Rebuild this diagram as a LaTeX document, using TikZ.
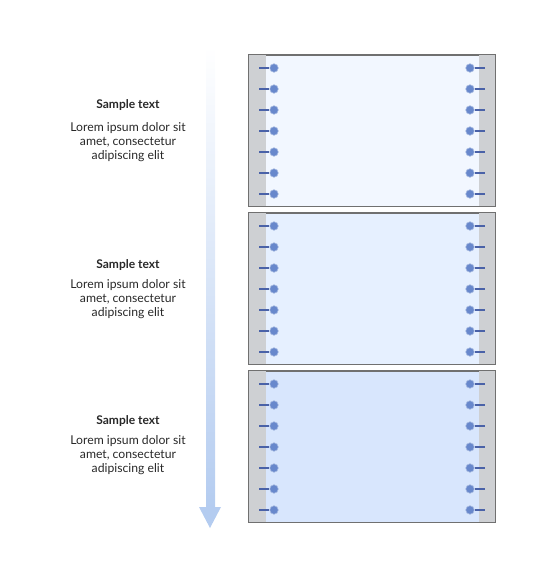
\documentclass[tikz,border=0pt]{standalone}
\usepackage{fontspec}
\setmainfont{Lato}
\usepackage{xcolor}
\definecolor{panelone}{RGB}{242,247,255}
\definecolor{paneltwo}{RGB}{230,240,255}
\definecolor{panelthree}{RGB}{216,230,253}
\definecolor{strip}{RGB}{206,208,211}
\definecolor{frame}{RGB}{112,112,112}
\definecolor{pin}{RGB}{104,136,204}
\definecolor{pinline}{RGB}{74,98,168}
\definecolor{flow}{RGB}{180,204,240}
\definecolor{ink}{RGB}{40,40,40}
\tikzstyle{panel}=[rectangle, draw=frame, line width=1pt, minimum width=246pt, minimum height=151pt, inner sep=0pt]
\tikzstyle{pin}=[circle, fill=pin, draw=pin!60!white, line width=0.6pt, minimum size=8.5pt, inner sep=0pt]
\tikzset{lead/.style={draw=pinline, line width=1.2pt}}
\tikzset{title/.style={font=\fontsize{12}{14}\selectfont\bfseries, text=ink}}
\tikzset{body/.style={font=\fontsize{12.2}{14}\selectfont, align=center, text=ink}}

\begin{document}
\begin{tikzpicture}[x=1pt,y=-1pt]
  \useasboundingbox (0,0) rectangle (555,576);

  %% Flow arrow
  \shade[top color=white, bottom color=flow] (206,46) rectangle (215,508);
  \fill[flow] (199,507) -- (221,507) -- (210,528) -- cycle;

  %% Texts
  \draw (128,105) node[title] (T1) {Sample text};
  \draw (128,142) node[body] (X1) {Lorem ipsum dolor sit\\amet, consectetur\\adipiscing elit};
  \draw (128,265) node[title] (T2) {Sample text};
  \draw (128,299) node[body] (X2) {Lorem ipsum dolor sit\\amet, consectetur\\adipiscing elit};
  \draw (128,421) node[title] (T3) {Sample text};
  \draw (128,455) node[body] (X3) {Lorem ipsum dolor sit\\amet, consectetur\\adipiscing elit};

  %% Panels
  \draw (372,130.5) node[panel, fill=panelone] (B1) {};
  \draw (372,288.5) node[panel, fill=paneltwo] (B2) {};
  \draw (372,446.5) node[panel, fill=panelthree] (B3) {};

  \fill[strip] (B1.north west) rectangle ([xshift=17pt]B1.south west);
  \fill[strip] (B1.north east) rectangle ([xshift=-17pt]B1.south east);
  \fill[strip] (B2.north west) rectangle ([xshift=17pt]B2.south west);
  \fill[strip] (B2.north east) rectangle ([xshift=-17pt]B2.south east);
  \fill[strip] (B3.north west) rectangle ([xshift=17pt]B3.south west);
  \fill[strip] (B3.north east) rectangle ([xshift=-17pt]B3.south east);

  \draw[frame, line width=1pt] (B1.north west) rectangle (B1.south east);
  \draw[frame, line width=1pt] (B2.north west) rectangle (B2.south east);
  \draw[frame, line width=1pt] (B3.north west) rectangle (B3.south east);

  %% Pins, panel 1
  \draw (259,68) coordinate (E11) (274,68) node[pin] (P11) {} (470,68) node[pin] (Q11) {} (485,68) coordinate (F11);
  \draw (259,89) coordinate (E12) (274,89) node[pin] (P12) {} (470,89) node[pin] (Q12) {} (485,89) coordinate (F12);
  \draw (259,110) coordinate (E13) (274,110) node[pin] (P13) {} (470,110) node[pin] (Q13) {} (485,110) coordinate (F13);
  \draw (259,131) coordinate (E14) (274,131) node[pin] (P14) {} (470,131) node[pin] (Q14) {} (485,131) coordinate (F14);
  \draw (259,152) coordinate (E15) (274,152) node[pin] (P15) {} (470,152) node[pin] (Q15) {} (485,152) coordinate (F15);
  \draw (259,173) coordinate (E16) (274,173) node[pin] (P16) {} (470,173) node[pin] (Q16) {} (485,173) coordinate (F16);
  \draw (259,194) coordinate (E17) (274,194) node[pin] (P17) {} (470,194) node[pin] (Q17) {} (485,194) coordinate (F17);

  %% Pins, panel 2
  \draw (259,226) coordinate (E21) (274,226) node[pin] (P21) {} (470,226) node[pin] (Q21) {} (485,226) coordinate (F21);
  \draw (259,247) coordinate (E22) (274,247) node[pin] (P22) {} (470,247) node[pin] (Q22) {} (485,247) coordinate (F22);
  \draw (259,268) coordinate (E23) (274,268) node[pin] (P23) {} (470,268) node[pin] (Q23) {} (485,268) coordinate (F23);
  \draw (259,289) coordinate (E24) (274,289) node[pin] (P24) {} (470,289) node[pin] (Q24) {} (485,289) coordinate (F24);
  \draw (259,310) coordinate (E25) (274,310) node[pin] (P25) {} (470,310) node[pin] (Q25) {} (485,310) coordinate (F25);
  \draw (259,331) coordinate (E26) (274,331) node[pin] (P26) {} (470,331) node[pin] (Q26) {} (485,331) coordinate (F26);
  \draw (259,352) coordinate (E27) (274,352) node[pin] (P27) {} (470,352) node[pin] (Q27) {} (485,352) coordinate (F27);

  %% Pins, panel 3
  \draw (259,384) coordinate (E31) (274,384) node[pin] (P31) {} (470,384) node[pin] (Q31) {} (485,384) coordinate (F31);
  \draw (259,405) coordinate (E32) (274,405) node[pin] (P32) {} (470,405) node[pin] (Q32) {} (485,405) coordinate (F32);
  \draw (259,426) coordinate (E33) (274,426) node[pin] (P33) {} (470,426) node[pin] (Q33) {} (485,426) coordinate (F33);
  \draw (259,447) coordinate (E34) (274,447) node[pin] (P34) {} (470,447) node[pin] (Q34) {} (485,447) coordinate (F34);
  \draw (259,468) coordinate (E35) (274,468) node[pin] (P35) {} (470,468) node[pin] (Q35) {} (485,468) coordinate (F35);
  \draw (259,489) coordinate (E36) (274,489) node[pin] (P36) {} (470,489) node[pin] (Q36) {} (485,489) coordinate (F36);
  \draw (259,510) coordinate (E37) (274,510) node[pin] (P37) {} (470,510) node[pin] (Q37) {} (485,510) coordinate (F37);

  %% Leads
  \draw[lead] (E11) -- (P11); \draw[lead] (Q11) -- (F11);
  \draw[lead] (E12) -- (P12); \draw[lead] (Q12) -- (F12);
  \draw[lead] (E13) -- (P13); \draw[lead] (Q13) -- (F13);
  \draw[lead] (E14) -- (P14); \draw[lead] (Q14) -- (F14);
  \draw[lead] (E15) -- (P15); \draw[lead] (Q15) -- (F15);
  \draw[lead] (E16) -- (P16); \draw[lead] (Q16) -- (F16);
  \draw[lead] (E17) -- (P17); \draw[lead] (Q17) -- (F17);

  \draw[lead] (E21) -- (P21); \draw[lead] (Q21) -- (F21);
  \draw[lead] (E22) -- (P22); \draw[lead] (Q22) -- (F22);
  \draw[lead] (E23) -- (P23); \draw[lead] (Q23) -- (F23);
  \draw[lead] (E24) -- (P24); \draw[lead] (Q24) -- (F24);
  \draw[lead] (E25) -- (P25); \draw[lead] (Q25) -- (F25);
  \draw[lead] (E26) -- (P26); \draw[lead] (Q26) -- (F26);
  \draw[lead] (E27) -- (P27); \draw[lead] (Q27) -- (F27);

  \draw[lead] (E31) -- (P31); \draw[lead] (Q31) -- (F31);
  \draw[lead] (E32) -- (P32); \draw[lead] (Q32) -- (F32);
  \draw[lead] (E33) -- (P33); \draw[lead] (Q33) -- (F33);
  \draw[lead] (E34) -- (P34); \draw[lead] (Q34) -- (F34);
  \draw[lead] (E35) -- (P35); \draw[lead] (Q35) -- (F35);
  \draw[lead] (E36) -- (P36); \draw[lead] (Q36) -- (F36);
  \draw[lead] (E37) -- (P37); \draw[lead] (Q37) -- (F37);
\end{tikzpicture}
\end{document}
